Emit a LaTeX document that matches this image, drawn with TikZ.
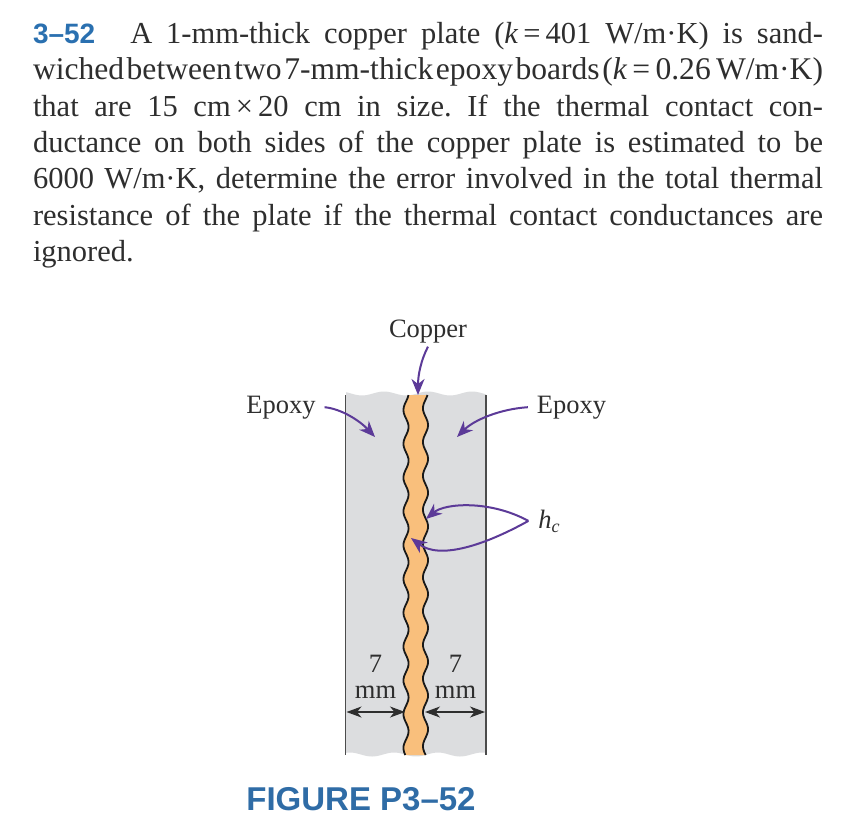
\documentclass[tikz,border=0pt]{standalone}
\usepackage{fontspec}
\setmainfont{Liberation Serif}
\setsansfont{Liberation Sans}
\usetikzlibrary{arrows.meta}
\definecolor{inkc}{HTML}{2E2E2E}
\definecolor{bluec}{HTML}{2A70B0}
\definecolor{figc}{HTML}{2F6CA6}
\definecolor{purplec}{HTML}{5C3A98}
\definecolor{grayc}{HTML}{DCDDDF}
\definecolor{copperc}{HTML}{F9BF7C}
\frenchspacing
\newcommand{\bodyline}[1]{\makebox[790pt][s]{\fontsize{30.5}{36}\selectfont\frenchspacing #1}}
\newcommand{\bodylast}[1]{{\fontsize{30.5}{36}\selectfont #1}}
\tikzset{
  bodytext/.style={anchor=base west,inner sep=0pt,outer sep=0pt,text=inkc},
  label/.style={anchor=base,inner sep=0pt,outer sep=4pt,text=inkc,font=\fontsize{26.5}{30}\selectfont},
  pointer/.style={draw=purplec,line width=2pt,-{Stealth[length=16pt,width=13pt,inset=5pt]}},
  dimline/.style={draw=inkc,line width=1.3pt,{Stealth[length=15pt,width=11pt,inset=4.5pt]}-{Stealth[length=15pt,width=11pt,inset=4.5pt]}},
  sideline/.style={draw=black!70,line width=1.5pt},
  edgeline/.style={draw=black!90,line width=1.8pt}
}
\begin{document}
\begin{tikzpicture}[x=1pt,y=-1pt]
\useasboundingbox (0,0) rectangle (842,838);
\fill[white] (0,0) rectangle (842,838);
% text
\node[bodytext] (l1) at (33,43) {\bodyline{{\fontsize{28}{30}\selectfont\sffamily\bfseries\color{bluec}3–52}\hspace{35pt}A 1-mm-thick copper plate (\textit{k}\,=\,401 W/m·K) is sand-}};
\node[bodytext] (l2) at (33,79.5) {\resizebox{790pt}{!}{\bodylast{wiched\hspace{.08em}between\hspace{.08em}two\hspace{.08em}7-mm-thick\hspace{.08em}epoxy\hspace{.08em}boards\hspace{.08em}(\textit{k}\,=\,0.26\,W/m·K)}}};
\node[bodytext] (l3) at (33,116) {\bodyline{that are 15 cm\,×\,20 cm in size. If the thermal contact con-}};
\node[bodytext] (l4) at (33,152) {\bodyline{ductance on both sides of the copper plate is estimated to be}};
\node[bodytext] (l5) at (33,188.5) {\bodyline{6000 W/m·K, determine the error involved in the total thermal}};
\node[bodytext] (l6) at (33,225) {\bodyline{resistance of the plate if the thermal contact conductances are}};
\node[bodytext] (l7) at (33,261) {\bodylast{ignored.}};
% boards
\fill[grayc]
  plot[domain=346:486,samples=60,smooth] (\x,{393.5+2*cos(8.18*(\x-362))})
  -- plot[domain=486:346,samples=60,smooth] (\x,{754.5+2*cos(8.18*(\x-372))}) -- cycle;
\draw[sideline] (345.5,395) -- (345.5,755);
\draw[sideline] (486,395) -- (486,755);
% copper plate
\fill[copperc]
  plot[domain=395:755,samples=120,smooth] ({406-2.6*cos(10.65*(\x-410))},\x)
  -- plot[domain=755:395,samples=120,smooth] ({425.5-2.6*cos(10.65*(\x-442))},\x) -- cycle;
\draw[edgeline] plot[domain=395:755,samples=120,smooth] ({406-2.6*cos(10.65*(\x-410))},\x);
\draw[edgeline] plot[domain=395:755,samples=120,smooth] ({425.5-2.6*cos(10.65*(\x-442))},\x);
% labels
\node[label] (copper) at (428,337) {Copper};
\node[label,outer sep=9pt] (epoxyL) at (281,413) {Epoxy};
\node[label,outer sep=9pt] (epoxyR) at (571.5,413) {Epoxy};
\node[label,outer sep=10pt] (hc) at (549,528) {\textit{h}\raisebox{-4pt}{\fontsize{18}{18}\selectfont\textit{c}}};
\node[label] (sevenL) at (375.5,672.5) {7};
\node[label] (mmL) at (375.5,698) {mm};
\node[label] (sevenR) at (455.5,672.5) {7};
\node[label] (mmR) at (455.5,698) {mm};
\node[anchor=base,inner sep=0pt,text=figc,font=\fontsize{33}{36}\selectfont\sffamily\bfseries] (fig) at (361,810) {FIGURE P3–52};
% free ends
\coordinate (tipCopper) at (418,395);
\coordinate (tipL) at (375,437);
\coordinate (tipR) at (457,437);
\coordinate (tipUp) at (426,519);
\coordinate (tipDown) at (411,538);
\coordinate (dimA) at (346.5,712);
\coordinate (dimB) at (405,712);
\coordinate (dimC) at (425,712);
\coordinate (dimD) at (485,712);
% connectors
\draw[pointer] (copper.south) .. controls (421,360) and (418,375) .. (tipCopper);
\draw[pointer] (epoxyL.east) .. controls (342,409) and (360,421) .. (tipL);
\draw[pointer] (epoxyR.west) .. controls (500,409) and (474,420) .. (tipR);
\draw[pointer] (hc.west) .. controls (490,500) and (445,503) .. (tipUp);
\draw[pointer] (hc.west) .. controls (485,545) and (440,560) .. (tipDown);
\draw[dimline] (dimA) -- (dimB);
\draw[dimline] (dimC) -- (dimD);
\end{tikzpicture}
\end{document}
